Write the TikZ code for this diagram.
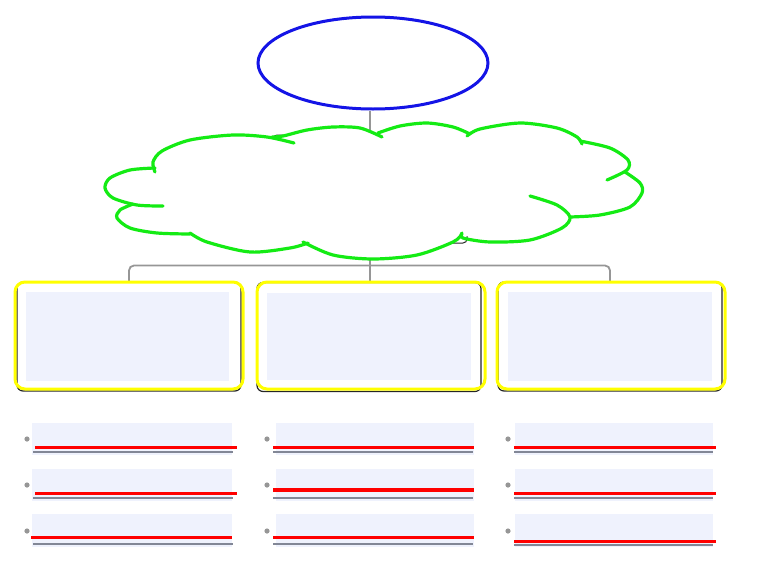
\documentclass[tikz,border=0pt]{standalone}
\usetikzlibrary{shapes.geometric}
\definecolor{cgreen}{RGB}{20,235,20}
\definecolor{cblue}{RGB}{20,20,230}
\definecolor{cyellow}{RGB}{255,255,0}
\definecolor{cred}{RGB}{255,0,0}
\definecolor{cfill}{RGB}{239,242,253}
\definecolor{cconn}{RGB}{150,150,150}
\definecolor{cline}{RGB}{130,135,150}
\tikzset{
  topell/.style={ellipse, draw=cblue, line width=3pt, minimum width=230pt, minimum height=92pt, inner sep=0pt},
  midbox/.style={draw=black!85, line width=1pt, rounded corners=4pt, minimum width=194pt, minimum height=108pt, inner sep=0pt},
  outerbox/.style={draw=black!85, line width=1.2pt, rounded corners=6pt, minimum width=224pt, minimum height=109pt, inner sep=0pt},
  yelbox/.style={draw=cyellow, line width=3pt, rounded corners=10pt},
  conn/.style={draw=cconn, line width=1.8pt, rounded corners=5pt},
  cloudarc/.style={draw=cgreen, line width=3.2pt, line cap=round},
  redln/.style={draw=cred, line width=3pt},
  grayln/.style={draw=cline, line width=1.5pt},
  bdot/.style={fill=cconn}
}
\begin{document}
\begin{tikzpicture}[x=1pt,y=1pt,yscale=-1]
\useasboundingbox (0,0) rectangle (768,576);
% top ellipse
\node[topell] (top) at (373,63) {};
% hidden box behind cloud
\node[midbox] (mid) at (370,189) {};
% boxes
\node[outerbox] (b1) at (129,336.5) {};
\node[outerbox] (b2) at (369,337) {};
\node[outerbox] (b3) at (610,336.5) {};
\path (mid.south) ++(0,22) coordinate (hub);
% connectors
\draw[conn] (top.south -| mid.north) -- (mid.north);
\draw[conn] (b1.north) -- (b1.north |- hub) -- (b3.north |- hub) -- (b3.north);
\draw[conn] (mid.south) -- (mid.south |- b2.north);
% cloud fill
\fill[white] (153,165) -- (162,152) -- (190,140) -- (233,135) -- (272,137) -- (307,130) -- (333,127) -- (360,128) -- (380,134) -- (400,126) -- (427,123) -- (453,127) -- (468,133) -- (480,129) -- (520,123) -- (557,128) -- (580,140) -- (610,148) -- (628,160) -- (625,172) -- (640,183) -- (642,193) -- (630,207) -- (600,215) -- (570,217) -- (562,228) -- (530,240) -- (490,242) -- (463,235) -- (440,247) -- (407,255) -- (373,259) -- (333,255) -- (305,243) -- (290,248) -- (250,252) -- (207,242) -- (190,234) -- (157,233) -- (130,228) -- (117,218) -- (120,210) -- (133,205) -- (113,198) -- (105,188) -- (110,178) -- (130,170) -- cycle;
% cloud arcs
\draw[cloudarc] plot[smooth] coordinates {(155,172) (153,162) (162,151) (190,140) (233,135) (267,137) (294,143)};
\draw[cloudarc] plot[smooth] coordinates {(272,137) (283,136) (307,130) (333,127) (360,128) (382,137)};
\draw[cloudarc] plot[smooth] coordinates {(378,133) (400,126) (427,123) (453,127) (470,134)};
\draw[cloudarc] plot[smooth] coordinates {(467,136) (480,129) (520,123) (557,128) (577,137) (582,144)};
\draw[cloudarc] plot[smooth] coordinates {(580,141) (610,148) (628,160) (627,170) (607,180)};
\draw[cloudarc] plot[smooth] coordinates {(625,172) (640,183) (642,193) (630,207) (600,215) (570,217)};
\draw[cloudarc] plot[smooth] coordinates {(530,196) (557,205) (570,217) (562,228) (530,240) (490,242) (463,238) (462,233)};
\draw[cloudarc] plot[smooth] coordinates {(303,242) (333,255) (373,259) (417,255) (453,242) (462,234)};
\draw[cloudarc] plot[smooth] coordinates {(190,233) (207,242) (250,252) (290,248) (308,243)};
\draw[cloudarc] plot[smooth] coordinates {(133,204) (120,210) (117,218) (130,228) (157,233) (190,234)};
\draw[cloudarc] plot[smooth] coordinates {(155,168) (130,170) (110,178) (105,188) (113,198) (137,205) (163,206)};
% yellow boxes and inner fills
\draw[yelbox] (15,282) rectangle (243,389);
\fill[cfill] (26,292) rectangle (229,381);
\draw[yelbox] (257,282) rectangle (485,389);
\fill[cfill] (267,293) rectangle (471,380);
\draw[yelbox] (497,282) rectangle (725,389);
\fill[cfill] (508,292) rectangle (712,381);
% bullet rows
\foreach \ya/\yb/\yd in {423/455/439, 469/501/485, 514/547/531} {
  \fill[cfill] (32,\ya) rectangle (232,\yb);
  \fill[cfill] (276,\ya) rectangle (474,\yb);
  \fill[cfill] (515,\ya) rectangle (713,\yb);
  \fill[bdot] (27,\yd) circle (2.6);
  \fill[bdot] (267,\yd) circle (2.6);
  \fill[bdot] (508,\yd) circle (2.6);
}
\draw[grayln] (33,452) -- (233,452);
\draw[grayln] (33,498) -- (233,498);
\draw[grayln] (33,544) -- (233,544);
\draw[grayln] (273,452) -- (473,452);
\draw[grayln] (273,498) -- (473,498);
\draw[grayln] (273,544) -- (473,544);
\draw[grayln] (514,452) -- (713,452);
\draw[grayln] (514,498) -- (713,498);
\draw[grayln] (514,545) -- (713,545);
\draw[redln] (35,447) -- (237,447);
\draw[redln] (35,493) -- (237,493);
\draw[redln] (31,537) -- (232,537);
\draw[redln] (273,447) -- (474,447);
\draw[redln, line width=4pt] (273,490) -- (474,490);
\draw[redln] (273,537) -- (474,537);
\draw[redln] (514,447) -- (716,447);
\draw[redln] (514,493) -- (716,493);
\draw[redln] (514,541) -- (716,541);
\end{tikzpicture}
\end{document}
